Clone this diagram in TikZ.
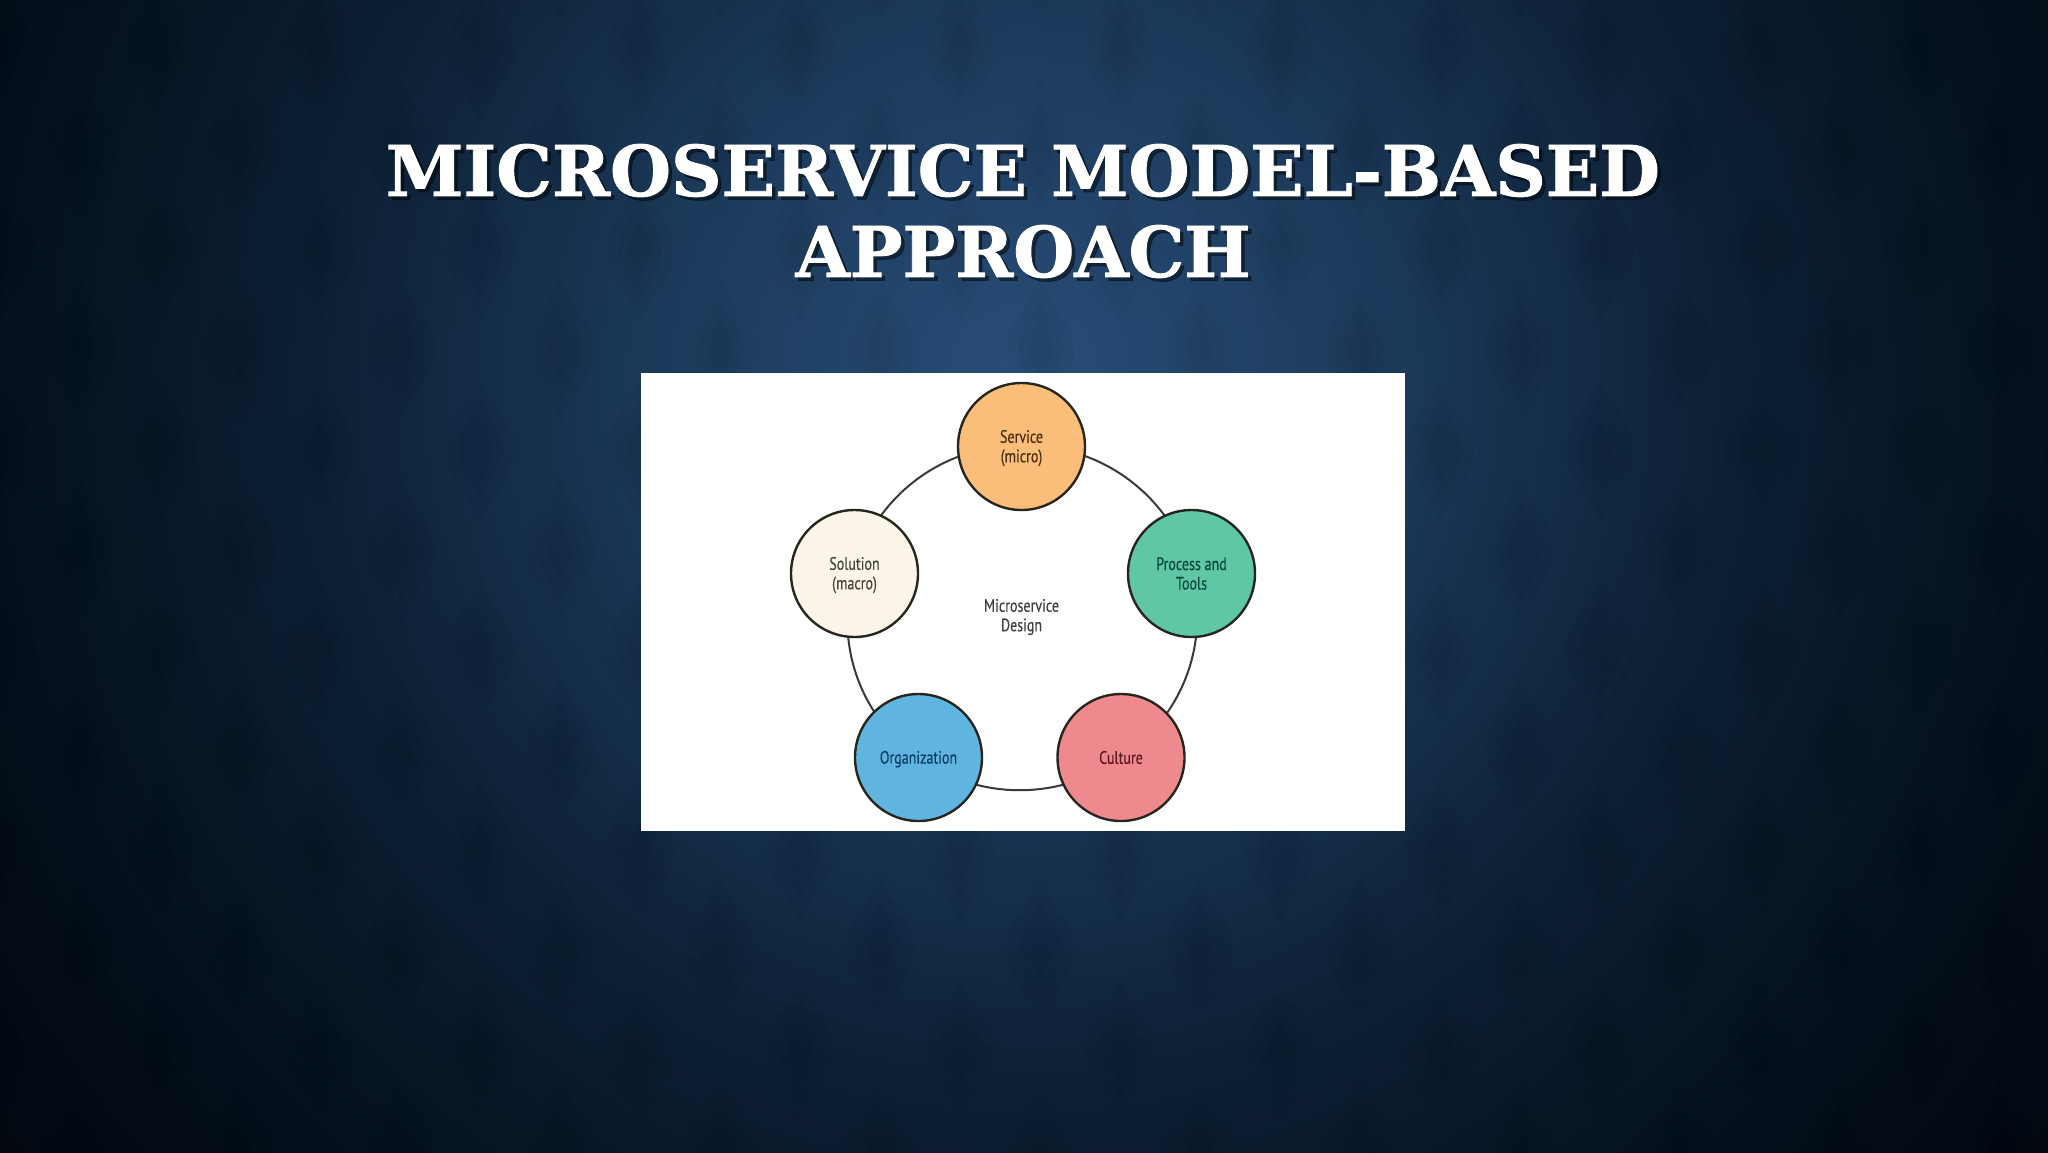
\documentclass[tikz,border=0pt]{standalone}
\usepackage{fontspec}
\setmainfont[BoldFeatures={FakeBold=1.2}]{DejaVu Serif}
\newfontfamily\labelfont[FakeStretch=0.78,FakeBold=0.3]{PT Sans}
\usetikzlibrary{backgrounds}
\definecolor{edgeline}{HTML}{3A3A3A}
\definecolor{ringdark}{HTML}{26261F}
\definecolor{bgA}{rgb}{0.165,0.305,0.475}
\definecolor{bgB}{rgb}{0.105,0.225,0.350}
\definecolor{bgC}{rgb}{0.050,0.125,0.210}
\definecolor{bgD}{rgb}{0.018,0.065,0.115}
\definecolor{bgE}{rgb}{0.010,0.030,0.060}
\tikzset{
  x=1pt,y=-1pt,
  titletext/.style={font=\fontsize{70}{81}\selectfont\bfseries,align=center,inner sep=0pt,text=white},
  titleshadow/.style={titletext,text=black},
  stage/.style={circle,draw=ringdark,line width=2.4pt,minimum size=127pt,inner sep=0pt,align=center,
    font=\labelfont\fontsize{18}{19.5}\selectfont},
  ringedge/.style={draw=edgeline,line width=2pt,looseness=0.94},
  centerlabel/.style={inner sep=0pt,align=center,text=black!75,font=\labelfont\fontsize{18}{19.5}\selectfont},
}
\begin{document}
\begin{tikzpicture}
\useasboundingbox (0,0) rectangle (2048,1152);
\node[stage,fill={rgb,255:red,251;green,189;blue,122},text={rgb,255:red,74;green,46;blue,14}] (service) at (1021.5,446.5) {\rule{0pt}{16pt}Service\\(micro)};
\node[stage,fill={rgb,255:red,95;green,199;blue,165},text={rgb,255:red,10;green,72;blue,56}] (process) at (1191.5,573.5) {Process and\\Tools};
\node[stage,fill={rgb,255:red,96;green,181;blue,224},text={rgb,255:red,14;green,60;blue,96}] (org) at (918.5,757.5) {\rule{0pt}{16pt}Organization};
\node[stage,fill={rgb,255:red,238;green,137;blue,141},text={rgb,255:red,92;green,22;blue,32}] (culture) at (1121,757.5) {Culture};
\node[stage,fill={rgb,255:red,251;green,244;blue,233},text={rgb,255:red,70;green,68;blue,60}] (solution) at (854.5,573.5) {\rule{0pt}{16pt}Solution\\(macro)};
\node[centerlabel] (center) at (1021.5,617) {Microservice\\Design};
\begin{pgfonlayer}{background}
\begin{scope}
  \clip (0,0) rectangle (2048,1152);
  \fill[bgE] (0,0) rectangle (2048,1152);
  \foreach \rout/\rin/\cin/\cout in {1300/1024/bgD/bgE,1024/704/bgC/bgD,704/384/bgB/bgC,384/0/bgA/bgB}{
    \foreach \k in {0,...,24}{
      \pgfmathtruncatemacro{\pct}{4*\k}
      \pgfmathsetmacro{\rr}{\rout+(\rin-\rout)*\k/25}
      \fill[\cin!\pct!\cout] (1024,380) circle [radius=\rr pt];
    }
  }
  % faint damask lattice of the slide background
  \foreach \i in {-1,...,13} \foreach \j in {-1,...,11} {
    \pgfmathsetmacro{\cx}{\i*160+mod(\j+10,2)*80}
    \pgfmathsetmacro{\cy}{\j*100+50}
    \foreach \w/\h in {34/72,22/52,12/32}{
      \fill[black,opacity=0.028]
        (\cx,\cy-\h) .. controls (\cx+0.3*\w,\cy-0.6*\h) and (\cx+\w,\cy-0.4*\h) .. (\cx+\w,\cy)
        .. controls (\cx+\w,\cy+0.4*\h) and (\cx+0.3*\w,\cy+0.6*\h) .. (\cx,\cy+\h)
        .. controls (\cx-0.3*\w,\cy+0.6*\h) and (\cx-\w,\cy+0.4*\h) .. (\cx-\w,\cy)
        .. controls (\cx-\w,\cy-0.4*\h) and (\cx-0.3*\w,\cy-0.6*\h) .. (\cx,\cy-\h) -- cycle;
    }
  }
\end{scope}
\fill[white] (641,373) rectangle (1405,831);
\draw[ringedge] (service.center) to[bend left=40] (process.center);
\draw[ringedge] (process.center) to[bend left=36] (culture.center);
\draw[ringedge] (culture.center) to[bend left=36] (org.center);
\draw[ringedge] (org.center) to[bend left=36] (solution.center);
\draw[ringedge] (solution.center) to[bend left=40] (service.center);
\end{pgfonlayer}
\node[titleshadow,opacity=0.45] at (1026.5,214.5) {MICROSERVICE MODEL-BASED\\APPROACH};
\node[titletext] (title) at (1023,211) {MICROSERVICE MODEL-BASED\\APPROACH};
\end{tikzpicture}
\end{document}
